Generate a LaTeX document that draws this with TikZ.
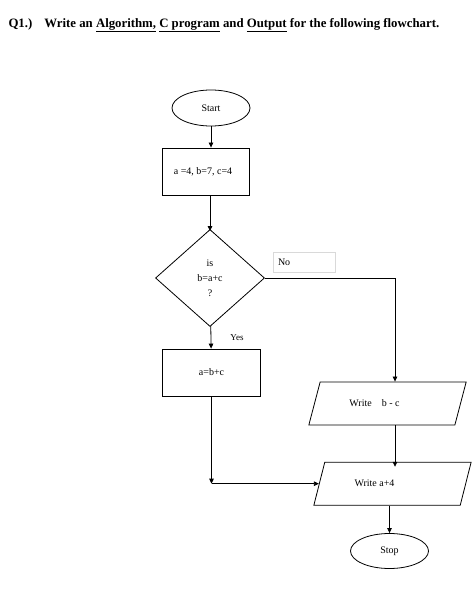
\documentclass[tikz,border=0pt]{standalone}
\usepackage{fontspec}
\setmainfont{Liberation Serif}
\usetikzlibrary{shapes.geometric,arrows.meta}
\begin{document}
\begin{tikzpicture}[x=1pt,y=-1pt,
  box/.style={draw,line width=0.8pt,inner sep=0pt,font=\fontsize{10}{11}\selectfont},
  oval/.style={box,ellipse},
  para/.style={box,trapezium,trapezium left angle=48,trapezium right angle=132,trapezium stretches=true,minimum width=158pt,minimum height=43pt},
  arr/.style={line width=0.8pt,-{Triangle[length=5pt,width=4.5pt]}},
  ln/.style={line width=0.8pt}]
\useasboundingbox (0,0) rectangle (474,601);
\node[anchor=west,font=\fontsize{12.8}{14}\selectfont\bfseries] (title) at (5,25)
  {Q1.)\hspace{12pt}Write an \underline{Algorithm,} \underline{C program} and \underline{Output} for the following flowchart.};
\node[oval,minimum width=78pt,minimum height=36pt] (start) at (211,108) {Start};
\node[box,rectangle,minimum width=87pt,minimum height=47pt] (init) at (206,171.5) {a =4, b=7, c=4\hspace*{6pt}};
\node[box,diamond,minimum width=109pt,minimum height=97pt,align=center,font=\fontsize{10}{15}\selectfont] (dec) at (210,278) {is\\b=a+c\\?};
\node[draw=black!15,line width=0.5pt,minimum width=62pt,minimum height=20pt,inner sep=0pt,text width=52pt,align=left,font=\fontsize{10}{11}\selectfont] (no) at (304,262) {No};
\node[font=\fontsize{9}{10}\selectfont,inner sep=0pt] (yes) at (237,338) {Yes};
\node[box,rectangle,minimum width=98pt,minimum height=47pt] (abc) at (211.5,372.5) {a=b+c};
\node[para] (p1) at (387.5,403.5) {Write\hspace{10pt}b - c\hspace*{26pt}};
\node[para] (p2) at (392.5,483.7) {Write a+4\hspace*{36pt}};
\node[oval,minimum width=78pt,minimum height=35pt] (stop) at (389.5,551) {Stop};
\coordinate (nocorner) at (395,278);
\coordinate (yescorner) at (abc.south |- p2.west);
\draw[arr] (start.south) -- (start.south |- init.north);
\draw[arr] (dec.north |- init.south) -- ([yshift=-2pt]dec.north);
\draw[arr] (dec) -- (abc);
\draw[ln] (dec.east) -- (nocorner);
\draw[arr] (nocorner) -- (nocorner |- p1.north);
\draw[arr] (p1.south -| nocorner) -- ([yshift=-5pt]nocorner |- p2.north);
\draw[arr] (p2.south -| stop) -- (stop);
\draw[arr] (abc.south) -- (yescorner);
\draw[arr] (yescorner) -- (p2.west);
\end{tikzpicture}
\end{document}
